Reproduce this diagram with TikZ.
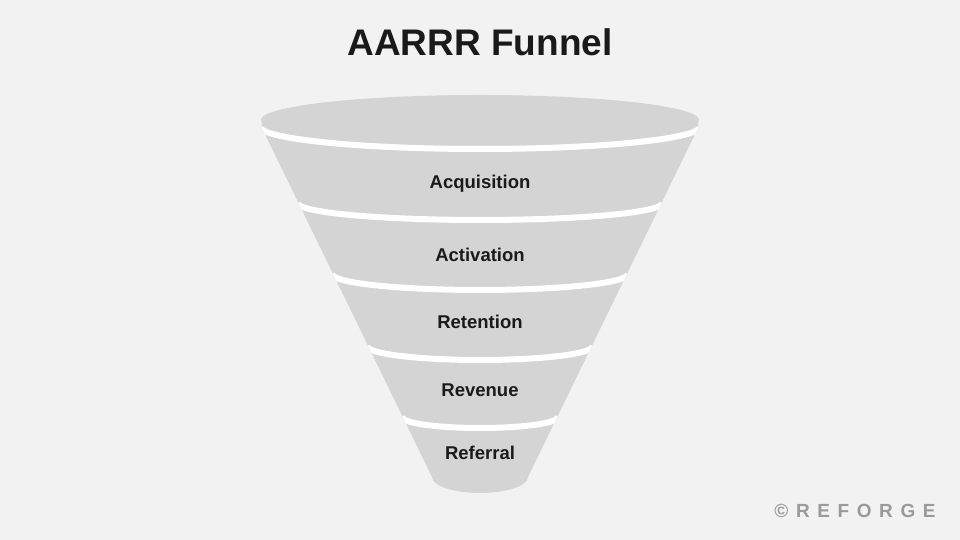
\documentclass[tikz,border=0pt]{standalone}
\usepackage{fontspec}
\setmainfont{Liberation Sans}
\newfontfamily\logofont[LetterSpace=40]{Liberation Sans}
\definecolor{bg}{HTML}{F2F2F2}
\definecolor{fun}{HTML}{D4D4D4}
\definecolor{txt}{HTML}{1A1A1A}
\definecolor{logo}{HTML}{9A9A9A}
\tikzset{lbl/.style={font=\bfseries\fontsize{18.5}{20}\selectfont, text=txt},
  sep/.style={draw=white, line width=6pt}}
\begin{document}
\begin{tikzpicture}[x=1pt,y=1pt]
\fill[bg] (0,0) rectangle (960,540);
\useasboundingbox (0,0) rectangle (960,540);
\node[font=\bfseries\fontsize{37}{40}\selectfont, text=txt] (title) at (480,498) {AARRR Funnel};
% cone
\path[fill=fun] (261,414) -- (432,63) arc[start angle=180,end angle=360,x radius=48,y radius=16] -- (699,414) arc[start angle=0,end angle=180,x radius=219,y radius=25] -- cycle;
\fill[fun] (480,420) ellipse[x radius=219,y radius=25];
\begin{scope}
\clip (261,414) -- (432,63) arc[start angle=180,end angle=360,x radius=48,y radius=16] -- (699,414) -- cycle;
\draw[sep] (259,414) arc[start angle=180,end angle=360,x radius=221,y radius=23];
\draw[sep] (297.5,337) arc[start angle=180,end angle=360,x radius=182.5,y radius=17];
\draw[sep] (332,266) arc[start angle=180,end angle=360,x radius=148,y radius=16];
\draw[sep] (367,194) arc[start angle=180,end angle=360,x radius=113,y radius=14];
\draw[sep] (402,123) arc[start angle=180,end angle=360,x radius=78,y radius=11];
\end{scope}
\node[lbl] (acq) at (480,356) {Acquisition};
\node[lbl] (act) at (480,285) {Activation};
\node[lbl] (ret) at (480,218) {Retention};
\node[lbl] (rev) at (480,150) {Revenue};
\node[lbl] (ref) at (480,87) {Referral};
\node[font=\logofont\bfseries\fontsize{19}{20}\selectfont, text=logo] (brand) at (855,29) {©REFORGE};
\end{tikzpicture}
\end{document}
